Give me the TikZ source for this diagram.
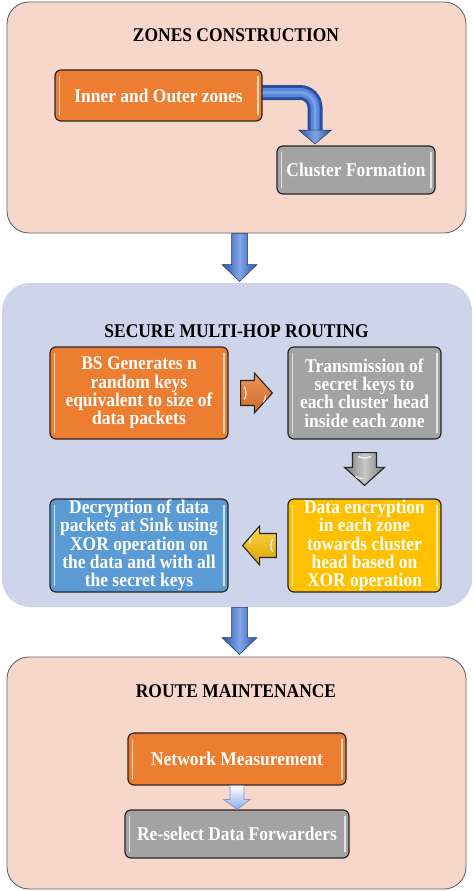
\documentclass[tikz,border=0pt]{standalone}
\usepackage{fontspec}
\setmainfont{Liberation Serif}[FakeStretch=0.9]
\usetikzlibrary{calc}
\definecolor{peach}{RGB}{248,215,203}
\definecolor{lav}{RGB}{206,212,234}
\definecolor{orng}{RGB}{237,125,49}
\definecolor{gry}{RGB}{163,163,163}
\definecolor{blu}{RGB}{91,155,213}
\definecolor{gold}{RGB}{255,192,0}
\definecolor{dblue}{RGB}{40,80,162}
\definecolor{mblue}{RGB}{88,136,220}
\definecolor{lblue}{RGB}{130,165,232}
\begin{document}
\begin{tikzpicture}[x=1pt,y=-1pt,
  panel/.style={draw=black!60, line width=0.9pt, rounded corners=22pt, fill=peach, inner sep=0pt},
  box/.style={draw=black!85, line width=1.2pt, rounded corners=6pt, text=white, inner sep=0pt,
    font=\bfseries\fontsize{19.4}{18.3}\selectfont, align=center},
  ttl/.style={font=\bfseries\fontsize{19.4}{18.3}\selectfont, anchor=base, inner sep=0pt},
  bar/.style={white, opacity=0.7, line width=1.8pt, line cap=round},
  fatblue/.style={left color=dblue, right color=dblue, middle color=lblue, draw=dblue!70!black, line width=0.5pt},
  blockarrow/.style={draw=black!85, line width=1.1pt, line join=miter},
  glint/.style={white, opacity=0.85, line width=1.2pt, line cap=round}
]
\useasboundingbox (0,0) rectangle (474,891);

% panels
\node[panel, minimum width=459pt, minimum height=231pt] (top) at (236.5,117.5) {};
\node[panel, draw=none, fill=lav, rounded corners=28pt, minimum width=470pt, minimum height=324pt] (mid) at (237,445) {};
\node[panel, minimum width=459pt, minimum height=232pt] (bot) at (236.5,773) {};

% titles
\node[ttl] (t1) at (236,42) {ZONES CONSTRUCTION};
\node[ttl] (t2) at (236.5,337) {SECURE MULTI-HOP ROUTING};
\node[ttl] (t3) at (236,697) {ROUTE MAINTENANCE};

% arrows between panels
\coordinate (sA) at ($(top.south)+(3,0)$);
\coordinate (tA) at ($(mid.north)+(2.5,-1)$);
\path[fatblue] ($(sA)+(-8,0)$) -- ($(tA)+(-8,-17)$) -- ($(tA)+(-17.5,-17)$) -- (tA)
  -- ($(tA)+(17.5,-17)$) -- ($(tA)+(8,-17)$) -- ($(sA)+(8,0)$) -- cycle;
\coordinate (sB) at ($(mid.south)+(2.5,0)$);
\coordinate (tB) at ($(bot.north)+(3,-2)$);
\path[fatblue] ($(sB)+(-8,0)$) -- ($(tB)+(-8,-17)$) -- ($(tB)+(-17.5,-17)$) -- (tB)
  -- ($(tB)+(17.5,-17)$) -- ($(tB)+(8,-17)$) -- ($(sB)+(8,0)$) -- cycle;

% box positions (defined first for the curved arrow)
\path (158.5,95.5) coordinate (innerc) (356,170) coordinate (clusterc);

% curved arrow from inner to cluster
\coordinate (cs) at ($(innerc)+(100,-3)$);
\coordinate (ct) at ($(clusterc)+(-41,-26)$);
\draw[dblue, line width=15pt, rounded corners=15pt] (cs) -| ($(ct)+(0,-14)$);
\draw[mblue, line width=9pt, rounded corners=15pt] (cs) -| ($(ct)+(0,-14.2)$);
\draw[lblue, line width=3pt, rounded corners=15pt, opacity=0.8] (cs) -| ($(ct)+(0,-14.4)$);
\path[fatblue] ($(ct)+(-16.5,-14)$) -- ($(ct)+(16.5,-14)$) -- (ct) -- cycle;

% boxes
\node[box, fill=orng, minimum width=207pt, minimum height=51pt] (inner) at (innerc) {Inner and Outer zones};
\node[box, fill=gry, minimum width=158pt, minimum height=48pt] (cluster) at (clusterc) {Cluster Formation};
\node[box, fill=orng, minimum width=178pt, minimum height=92pt] (bs) at (139,393)
  {BS Generates n\\random keys\\equivalent to size of\\data packets};
\node[box, fill=gry, minimum width=153pt, minimum height=92pt] (tr) at (364.5,393)
  {Transmission of\\secret keys to\\each cluster head\\inside each zone};
\node[box, fill=blu, minimum width=178pt, minimum height=93pt] (dec) at (139,545.5)
  {Decryption of data\\packets at Sink using\\XOR operation on\\the data and with all\\the secret keys};
\node[box, fill=gold, minimum width=153pt, minimum height=93pt] (enc) at (364.5,545.5)
  {Data encryption\\in each zone\\towards cluster\\head based on\\XOR operation};
\node[box, fill=orng, minimum width=218pt, minimum height=52pt] (nm) at (237,759) {Network Measurement};
\node[box, fill=gry, minimum width=224pt, minimum height=48pt] (rs) at (237,834) {Re-select Data Forwarders};

\foreach \n in {inner,cluster,bs,tr,dec,enc,nm,rs} {
  \draw[bar] ($(\n.north west)+(5,7)$) -- ($(\n.south west)+(5,-7)$);
  \draw[bar] ($(\n.north east)+(-5,7)$) -- ($(\n.south east)+(-5,-7)$);
}

% orange right arrow bs -> tr
\coordinate (sC) at ($(bs.east)+(12,0)$);
\coordinate (tC) at ($(tr.west)+(-15,0)$);
\path[blockarrow, top color=orng!80!white, bottom color=orng!85!black]
  ($(sC)+(0,-12.5)$) -- ($(tC)+(-18,-12.5)$) -- ($(tC)+(-18,-20)$) -- (tC)
  -- ($(tC)+(-18,20)$) -- ($(tC)+(-18,12.5)$) -- ($(sC)+(0,12.5)$) -- cycle;
\draw[glint] ($(sC)+(4,-6)$) to[bend left=25] ($(sC)+(4,6)$);
\draw[glint] ($(tC)+(-7,2)$) to[bend left=25] ($(tC)+(-9,9)$);

% gray down arrow tr -> enc
\coordinate (sD) at ($(tr.south)+(0,13)$);
\coordinate (tD) at ($(enc.north)+(0,-13)$);
\path[blockarrow, left color=gry!75!black, right color=gry!75!black, middle color=gry!60!white]
  ($(sD)+(-12,0)$) -- ($(tD)+(-12,-18)$) -- ($(tD)+(-20,-18)$) -- (tD)
  -- ($(tD)+(20,-18)$) -- ($(tD)+(12,-18)$) -- ($(sD)+(12,0)$) -- cycle;
\draw[glint] ($(sD)+(-6,4)$) to[bend right=25] ($(sD)+(6,4)$);
\draw[glint] ($(tD)+(-2,-7)$) to[bend left=25] ($(tD)+(-9,-9)$);

% yellow left arrow enc -> dec
\coordinate (sE) at ($(enc.west)+(-11,0)$);
\coordinate (tE) at ($(dec.east)+(14,0)$);
\path[blockarrow, top color=gold!70!white, bottom color=gold!85!black]
  ($(sE)+(0,-12)$) -- ($(tE)+(17,-12)$) -- ($(tE)+(17,-19.5)$) -- (tE)
  -- ($(tE)+(17,19.5)$) -- ($(tE)+(17,12)$) -- ($(sE)+(0,12)$) -- cycle;
\draw[glint] ($(sE)+(-4,-6)$) to[bend right=25] ($(sE)+(-4,6)$);
\draw[glint] ($(tE)+(7,-2)$) to[bend left=25] ($(tE)+(9,-8)$);

% small arrow nm -> rs
\coordinate (sF) at (nm.south);
\coordinate (tF) at (rs.north);
\path[top color=white, bottom color=mblue!70!white, draw=dblue!60, line width=0.7pt]
  ($(sF)+(-7,0)$) -- ($(tF)+(-7,-10)$) -- ($(tF)+(-13.5,-10)$) -- (tF)
  -- ($(tF)+(13.5,-10)$) -- ($(tF)+(7,-10)$) -- ($(sF)+(7,0)$) -- cycle;
\end{tikzpicture}
\end{document}
